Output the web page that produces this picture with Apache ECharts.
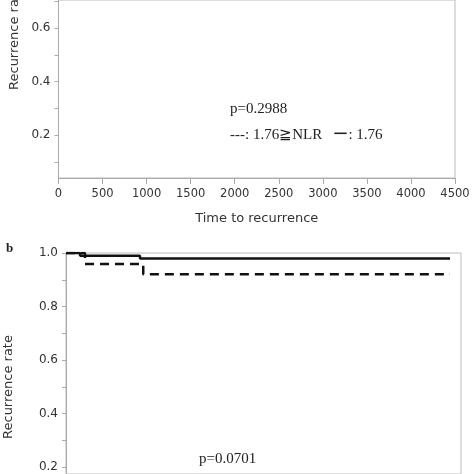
<!DOCTYPE html>
<html><head><meta charset="utf-8">
<script src="https://cdn.jsdelivr.net/npm/echarts@6/dist/echarts.min.js"></script>
<style>html,body{margin:0;padding:0;background:#fff}#c{width:474px;height:474px}</style>
</head><body><div id="c"></div>
<script>
const xTicks = [0,500,1000,1500,2000,2500,3000,3500,4000,4500];
const yLabels = [0.2,0.4,0.6,0.8,1.0];
const yTicks = [0.1,0.2,0.3,0.4,0.5,0.6,0.7,0.8,0.9,1.0];
// panel b: Kaplan-Meier step points [time, rate]
const bSolidTime = [0,160,843,4375];
const bSolidRate = [1.0,0.99,0.979,0.979];
const bDashTime = [0,216,880,4375];
const bDashRate = [1.0,0.959,0.921,0.921];
const zip=(a,b)=>a.map((v,i)=>[v,b[i]]);
const font='DejaVu Sans';
function yAx(gi,min,max){return {gridIndex:gi,type:'value',min:min,max:max,
  axisLine:{show:true,lineStyle:{color:'#aaa'}},splitLine:{show:false},
  axisTick:{show:true,customValues:yTicks.filter(v=>v>=min&&v<=max),length:4,lineStyle:{color:'#aaa'}},
  axisLabel:{customValues:yLabels.filter(v=>v>=min&&v<=max),formatter:v=>v.toFixed(1),fontFamily:font,fontSize:12,color:'#333',margin:8}};}
function xAx(gi,show){return {gridIndex:gi,type:'value',min:0,max:4500,interval:500,show:show,
  name:show?'Time to recurrence':'',nameLocation:'middle',nameGap:34,nameTextStyle:{fontFamily:font,fontSize:13,color:'#333'},
  axisLine:{show:true,onZero:false,lineStyle:{color:'#aaa'}},splitLine:{show:false},
  axisTick:{show:true,length:6,lineStyle:{color:'#aaa'}},
  axisLabel:{customValues:xTicks,formatter:v=>String(v),fontFamily:font,fontSize:11.5,color:'#333',margin:10}};}
const chart=echarts.init(document.getElementById('c'));
chart.setOption({
  animation:false,
  grid:[{left:58.5,top:0,width:396.5,height:178,show:true,borderColor:'#bbb',borderWidth:1},
        {left:66,top:253,width:395,height:221,show:true,borderColor:'#bbb',borderWidth:1}],
  xAxis:[xAx(0,true),xAx(1,false)],
  yAxis:[yAx(0,0.04,0.705),yAx(1,0.174,1.0)],
  series:[
    {type:'line',xAxisIndex:1,yAxisIndex:1,step:'end',symbol:'none',data:zip(bSolidTime,bSolidRate),lineStyle:{color:'#111',width:2.5}},
    {type:'line',xAxisIndex:1,yAxisIndex:1,step:'end',symbol:'none',data:zip(bDashTime,bDashRate),lineStyle:{color:'#111',width:2.5,type:[9,6]}}
  ],
  graphic:[
    {type:'text',x:15,y:38,rotation:Math.PI/2,style:{text:'Recurrence rate',font:'13px "DejaVu Sans"',fill:'#333',align:'center',verticalAlign:'middle'}},
    {type:'text',x:9,y:387,rotation:Math.PI/2,style:{text:'Recurrence rate',font:'13px "DejaVu Sans"',fill:'#333',align:'center',verticalAlign:'middle'}},
    {type:'text',left:230,top:102,style:{text:'p=0.2988',font:'15px "Liberation Serif"',fill:'#222'}},
    {type:'text',left:230,top:128,style:{text:'---: 1.76≧NLR   ー: 1.76',font:'15px "Liberation Serif"',fill:'#222'}},
    {type:'text',left:6,top:242,style:{text:'b',font:'bold 13px "Liberation Serif"',fill:'#222'}},
    {type:'text',left:199,top:452,style:{text:'p=0.0701',font:'15px "Liberation Serif"',fill:'#222'}}
  ]
});
</script></body></html>
